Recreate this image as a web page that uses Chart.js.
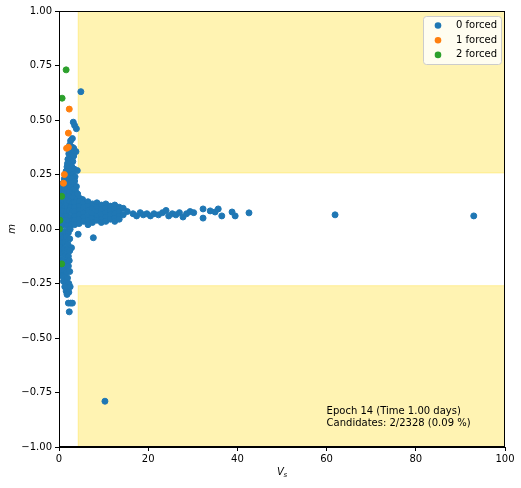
<!DOCTYPE html>
<html>
<head>
<meta charset="utf-8">
<script src="https://cdn.jsdelivr.net/npm/chart.js@4"></script>
<style>
  body { margin: 0; background: #fff; }
  #wrap { width: 521px; height: 488px; }
</style>
</head>
<body>
<div id="wrap"><canvas id="myChart" width="521" height="488"></canvas></div>
<script>
// series: [Vs, m] pairs
const forced0 = [
  [4.9, 0.63], [3.2, 0.49], [3.5, 0.475], [3.9, 0.46], [3.0, 0.415], [2.6, 0.405],
  [2.4, 0.385], [3.0, 0.375], [3.3, 0.37], [3.8, 0.355], [2.7, 0.36],
  [2.2, 0.345], [2.8, 0.34], [3.3, 0.335], [2.0, 0.32], [2.6, 0.315], [3.1, 0.31], [1.9, 0.30], [2.4, 0.295],
  [1.8, 0.285], [2.3, 0.28], [2.9, 0.285], [3.4, 0.275], [1.6, 0.265], [2.1, 0.26], [2.7, 0.265], [4.1, 0.268],
  [1.5, 0.245], [2.0, 0.24], [2.5, 0.245], [3.1, 0.25], [3.6, 0.24],
  [1.2, 0.23], [1.7, 0.225], [2.3, 0.225], [2.9, 0.23], [3.5, 0.22], [0.9, 0.21], [1.5, 0.205], [2.1, 0.205],
  [2.7, 0.21], [3.3, 0.2], [3.9, 0.195], [0.7, 0.19], [1.3, 0.185], [1.9, 0.185], [2.5, 0.19], [3.1, 0.18],
  [3.7, 0.175], [0.5, 0.17], [1.1, 0.165], [1.7, 0.165], [2.3, 0.17], [2.9, 0.16], [3.5, 0.155], [4.2, 0.16],
  [0.3, 0.15], [0.9, 0.145], [1.5, 0.145], [2.1, 0.15], [2.7, 0.14], [3.3, 0.14], [4.0, 0.135], [4.7, 0.14], [5.3, 0.135],
  [0.3, 0.13], [1.0, 0.125], [1.7, 0.13], [2.4, 0.125], [3.1, 0.12],
  [0.5, 0.105], [1.2, 0.1], [1.9, 0.105], [2.6, 0.1],
  [0.2, 0.085], [0.9, 0.08], [1.6, 0.08], [2.3, 0.085], [3.0, 0.08],
  [0.5, 0.06], [1.2, 0.055], [1.9, 0.06], [2.6, 0.055],
  [0.2, 0.04], [0.9, 0.035], [1.6, 0.04], [2.3, 0.035], [3.0, 0.04],
  [0.5, 0.015], [1.2, 0.02], [1.9, 0.015], [2.7, 0.02],
  [3.5, 0.12], [3.5, 0.10], [3.5, 0.08], [3.5, 0.06], [3.5, 0.04], [3.5, 0.02],
  [4.5, 0.125], [4.5, 0.105], [4.5, 0.085], [4.5, 0.065], [4.5, 0.045], [4.5, 0.025],
  [5.5, 0.12], [5.5, 0.10], [5.5, 0.075], [5.5, 0.055], [5.5, 0.035],
  [6.5, 0.125], [6.5, 0.105], [6.5, 0.085], [6.5, 0.06], [6.5, 0.04], [6.5, 0.02],
  [7.5, 0.115], [7.5, 0.095], [7.5, 0.07], [7.5, 0.05], [7.5, 0.03],
  [8.5, 0.12], [8.5, 0.10], [8.5, 0.08], [8.5, 0.06], [8.5, 0.04],
  [9.5, 0.11], [9.5, 0.09], [9.5, 0.065], [9.5, 0.045], [9.5, 0.03],
  [10.5, 0.115], [10.5, 0.095], [10.5, 0.075], [10.5, 0.055], [10.5, 0.035],
  [11.5, 0.105], [11.5, 0.085], [11.5, 0.065], [11.5, 0.045],
  [12.5, 0.11], [12.5, 0.09], [12.5, 0.07], [12.5, 0.05], [12.5, 0.035],
  [13.5, 0.10], [13.5, 0.08], [13.5, 0.06], [13.5, 0.045],
  [14.4, 0.095], [14.4, 0.065], [15.3, 0.08],
  [16.6, 0.07], [17.4, 0.06], [18.2, 0.075], [18.9, 0.065], [19.7, 0.07], [20.5, 0.06], [21.3, 0.07],
  [22.3, 0.065], [23.2, 0.075], [24.0, 0.085], [24.6, 0.06], [25.4, 0.07], [26.2, 0.065], [27.0, 0.075],
  [27.8, 0.055], [28.6, 0.07], [29.4, 0.08], [30.2, 0.075],
  [32.3, 0.092], [32.3, 0.05], [33.9, 0.083], [35.0, 0.078], [35.7, 0.092], [36.5, 0.06],
  [38.8, 0.078], [39.5, 0.06], [42.6, 0.074], [61.9, 0.065], [93.0, 0.06],
  [0.2, -0.01], [0.8, -0.015], [1.4, -0.01], [2.1, -0.017], [2.5, -0.001], [4.3, -0.024], [7.7, -0.04],
  [0.4, -0.035], [1.0, -0.04], [1.7, -0.035], [2.4, -0.045],
  [0.2, -0.06], [0.8, -0.065], [1.4, -0.06], [2.0, -0.07], [2.8, -0.086], [0.4, -0.085], [1.1, -0.09],
  [1.8, -0.095], [2.4, -0.1],
  [0.2, -0.11], [0.8, -0.115], [1.5, -0.12], [2.1, -0.125], [0.4, -0.14], [1.0, -0.145], [1.7, -0.15],
  [2.3, -0.145], [0.2, -0.165], [0.9, -0.17], [1.5, -0.175], [2.1, -0.17], [0.5, -0.19], [1.1, -0.195],
  [1.7, -0.2], [2.4, -0.195],
  [0.7, -0.215], [1.3, -0.22], [1.9, -0.225], [1.0, -0.24], [1.6, -0.245], [2.2, -0.25], [1.3, -0.265],
  [1.9, -0.27], [2.5, -0.265], [1.6, -0.285], [2.2, -0.29], [1.8, -0.3],
  [2.1, -0.34], [2.6, -0.34], [3.0, -0.34], [2.3, -0.38], [10.3, -0.79]
];
const forced1 = [[2.3, 0.55], [2.1, 0.44], [1.7, 0.37], [2.1, 0.375], [1.2, 0.25], [1.0, 0.21]];
const forced2 = [[1.6, 0.73], [0.7, 0.6], [0.6, 0.15], [0.2, 0.04], [0.1, 0.0], [0.6, -0.16]];

const seriesNames = ['0 forced', '1 forced', '2 forced'];
const seriesColors = ['#1f77b4', '#ff7f0e', '#2ca02c'];

// shaded regions [xmin, xmax, ymin, ymax]
const regions = [[4.3, 100, 0.257, 1], [4.3, 100, -1, -0.26]];

const xTicks = [0, 20, 40, 60, 80, 100];
const xTickLabels = ['0', '20', '40', '60', '80', '100'];
const yTicks = [-1, -0.75, -0.5, -0.25, 0, 0.25, 0.5, 0.75, 1];
const yTickLabels = ['\u22121.00', '\u22120.75', '\u22120.50', '\u22120.25', '0.00', '0.25', '0.50', '0.75', '1.00'];

const noteLines = ['Epoch 14 (Time 1.00 days)', 'Candidates: 2/2328 (0.09 %)'];

const FONT = 'DejaVu Sans';

const shading = {
  id: 'shading',
  beforeDatasetsDraw(chart) {
    const { ctx, scales: { x, y }, chartArea } = chart;
    ctx.save();
    ctx.beginPath();
    ctx.rect(chartArea.left, chartArea.top, chartArea.width, chartArea.height);
    ctx.clip();
    ctx.fillStyle = 'rgba(255,215,0,0.3)';
    ctx.strokeStyle = 'rgba(255,215,0,0.3)';
    regions.forEach(r => {
      const x0 = x.getPixelForValue(r[0]), x1 = x.getPixelForValue(r[1]);
      const y0 = y.getPixelForValue(r[3]), y1 = y.getPixelForValue(r[2]);
      ctx.fillRect(x0, y0, x1 - x0, y1 - y0);
      ctx.strokeRect(x0, y0, x1 - x0, y1 - y0);
    });
    ctx.restore();
  },
  afterDatasetsDraw(chart) {
    const { ctx, chartArea: a } = chart;
    ctx.save();
    // frame
    ctx.strokeStyle = '#000';
    ctx.lineWidth = 1;
    ctx.strokeRect(a.left + 0.5, a.top + 0.5, a.width - 1, a.height - 1);

    // note text
    const x = chart.scales.x.getPixelForValue(60);
    ctx.fillStyle = '#000';
    ctx.font = '10px "' + FONT + '"';
    ctx.textBaseline = 'middle';
    ctx.textAlign = 'left';
    ctx.fillText(noteLines[0], x, a.bottom - 36);
    ctx.fillText(noteLines[1], x, a.bottom - 24);

    // legend
    const bx = a.right - 82, by = a.top + 5, bw = 78, bh = 48;
    ctx.beginPath();
    ctx.roundRect(bx + 0.5, by + 0.5, bw, bh, 3);
    ctx.fillStyle = 'rgba(255,255,255,0.8)';
    ctx.fill();
    ctx.strokeStyle = '#cccccc';
    ctx.stroke();
    seriesNames.forEach((name, i) => {
      const cy = by + 9.5 + i * 14.7;
      ctx.beginPath();
      ctx.arc(bx + 15, cy, 3.3, 0, Math.PI * 2);
      ctx.fillStyle = seriesColors[i];
      ctx.fill();
      ctx.fillStyle = '#000';
      ctx.fillText(name, bx + 33, cy);
    });

    // axis titles
    ctx.font = 'italic 10px "' + FONT + '"';
    ctx.textAlign = 'center';
    ctx.save();
    ctx.translate(12, (a.top + a.bottom) / 2);
    ctx.rotate(-Math.PI / 2);
    ctx.fillText('m', 0, 0);
    ctx.restore();
    const cx = (a.left + a.right) / 2;
    ctx.textAlign = 'left';
    ctx.fillText('V', cx - 5, 472);
    ctx.font = 'italic 7px "' + FONT + '"';
    ctx.fillText('s', cx + 1.5, 475.5);
    ctx.restore();
  }
};

const canva = document.getElementById('myChart').getContext('2d');
const toPts = arr => arr.map(p => ({ x: p[0], y: p[1] }));

const myChart = new Chart(canva, {
  type: 'scatter',
  data: {
    datasets: [forced0, forced1, forced2].map((d, i) => ({
      label: seriesNames[i],
      data: toPts(d),
      backgroundColor: seriesColors[i],
      borderColor: seriesColors[i],
      borderWidth: 1,
      pointRadius: 3,
      pointHoverRadius: 3,
      order: 3 - i
    }))
  },
  options: {
    responsive: false,
    animation: false,
    layout: { padding: { left: 0, top: 11, right: 16, bottom: 0 } },
    plugins: { legend: { display: false }, tooltip: { enabled: false } },
    scales: {
      x: {
        type: 'linear', min: 0, max: 100,
        afterBuildTicks: s => { s.ticks = xTicks.map(v => ({ value: v })); },
        afterFit: s => { s.height = 41; },
        ticks: {
          callback: (v, i) => xTickLabels[i],
          color: '#000', font: { family: FONT, size: 10 }, padding: 2, maxRotation: 0
        },
        grid: { drawOnChartArea: false, drawTicks: true, tickLength: 4, color: '#000' },
        border: { display: true, color: '#000' }
      },
      y: {
        type: 'linear', min: -1, max: 1,
        afterBuildTicks: s => { s.ticks = yTicks.map(v => ({ value: v })); },
        afterFit: s => { s.width = 59; },
        ticks: {
          callback: (v, i) => yTickLabels[i],
          color: '#000', font: { family: FONT, size: 10 }, padding: 3
        },
        grid: { drawOnChartArea: false, drawTicks: true, tickLength: 4, color: '#000' },
        border: { display: true, color: '#000' }
      }
    }
  },
  plugins: [shading]
});
</script>
</body>
</html>
